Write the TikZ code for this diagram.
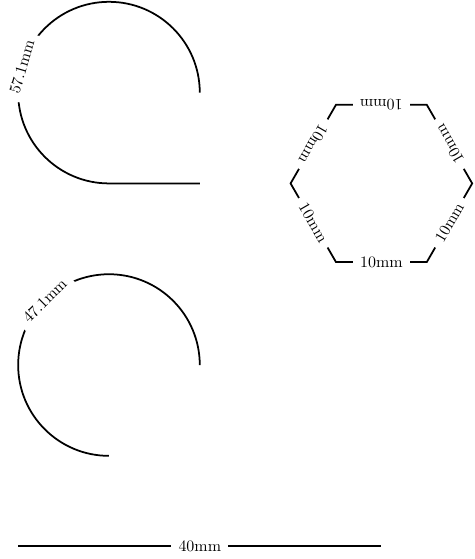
\documentclass[tikz,border=0pt]{standalone}
\begin{document}
\begin{tikzpicture}[x=2mm,y=2mm,line width=1.1pt,
  lab/.style={fill=white,inner xsep=4.5pt,inner ysep=1.5pt,font=\normalsize}]
\useasboundingbox (0,0) rectangle (52.2,-61.56);
% top shape: 3/4 arc plus straight segment
\draw (22,-10.2) arc[start angle=0,end angle=270,radius=10] -- (22,-20.2);
\node[lab,rotate=73.6] (l571) at (2.407,-7.377) {57.1mm};
% second arc
\draw (22,-40.2) arc[start angle=0,end angle=270,radius=10];
\node[lab,rotate=45] (l471) at (4.929,-33.129) {47.1mm};
% hexagon
\foreach \i/\a in {1/240,2/300,3/0,4/60,5/120,6/180}
  \coordinate (h\i) at ([shift={(42,-20.2)}]\a:10);
\draw (h1) -- (h2) -- (h3) -- (h4) -- (h5) -- (h6) -- cycle;
\path (h1) -- node[lab,sloped,allow upside down] (e1) {10mm} (h2);
\path (h2) -- node[lab,sloped,allow upside down] (e2) {10mm} (h3);
\path (h3) -- node[lab,sloped,allow upside down] (e3) {10mm} (h4);
\path (h4) -- node[lab,sloped,allow upside down] (e4) {10mm} (h5);
\path (h5) -- node[lab,sloped,allow upside down] (e5) {10mm} (h6);
\path (h6) -- node[lab,sloped,allow upside down] (e6) {10mm} (h1);
% bottom line
\coordinate (b1) at (2,-60.15);
\coordinate (b2) at (42,-60.15);
\draw (b1) -- (b2);
\node[lab] (l40) at (22,-60.15) {40mm};
\end{tikzpicture}
\end{document}
